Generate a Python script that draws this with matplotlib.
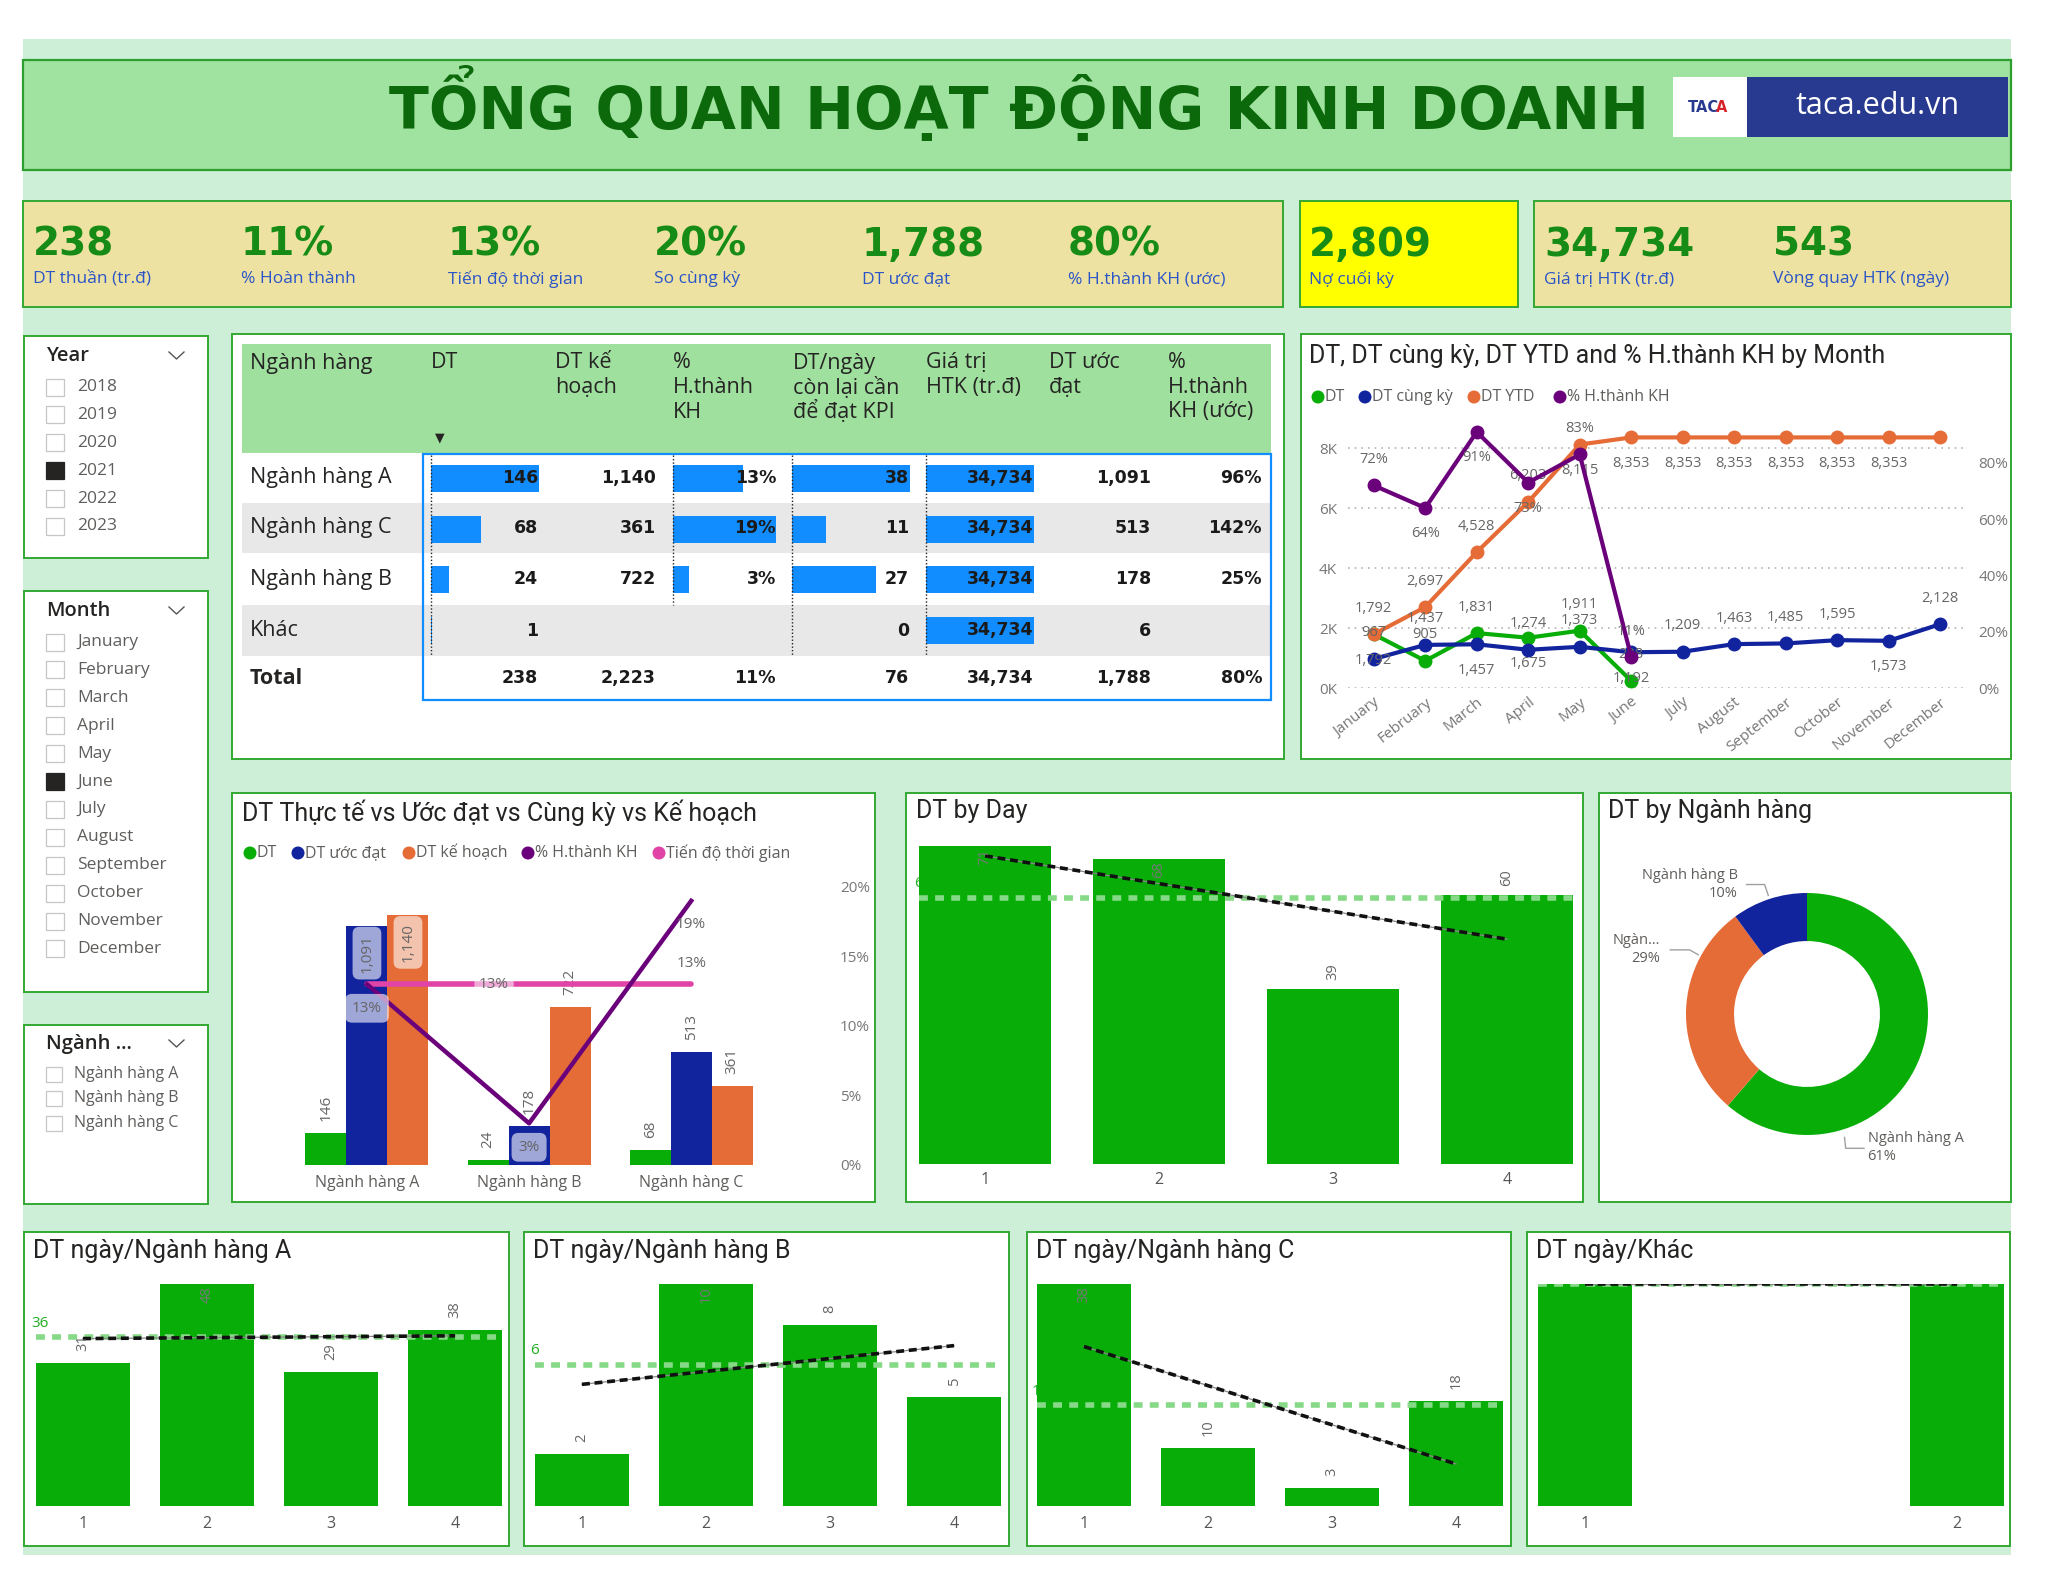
import numpy as np
import matplotlib
matplotlib.use('Agg')
import matplotlib.pyplot as plt
from matplotlib.patches import Rectangle, Circle

plt.rcParams['font.family'] = ['Open Sans', 'DejaVu Sans']

W, H = 2048, 1586
DPI = 100
PT = 72.0 / DPI  # points per pixel

# ---------------- data ----------------
kpi_values = ['238', '11%', '13%', '20%', '1,788', '80%']
kpi_labels = ['DT thuần (tr.đ)', '% Hoàn thành', 'Tiến độ thời gian', 'So cùng kỳ',
              'DT ước đạt', '% H.thành KH (ước)']
debt_value = '2,809'
debt_label = 'Nợ cuối kỳ'
htk_values = ['34,734', '543']
htk_labels = ['Giá trị HTK (tr.đ)', 'Vòng quay HTK (ngày)']

years = ['2018', '2019', '2020', '2021', '2022', '2023']
year_selected = '2021'
months = ['January', 'February', 'March', 'April', 'May', 'June', 'July',
          'August', 'September', 'October', 'November', 'December']
month_selected = 'June'
slicer_nganh = ['Ngành hàng A', 'Ngành hàng B', 'Ngành hàng C']

tbl_headers = [['Ngành hàng'], ['DT'], ['DT kế', 'hoạch'], ['%', 'H.thành', 'KH'],
               ['DT/ngày', 'còn lại cần', 'để đạt KPI'], ['Giá trị', 'HTK (tr.đ)'],
               ['DT ước', 'đạt'], ['%', 'H.thành', 'KH (ước)']]
tbl_rows = ['Ngành hàng A', 'Ngành hàng C', 'Ngành hàng B', 'Khác']
tbl_dt = [146, 68, 24, 1]
tbl_kh = [1140, 361, 722, None]
tbl_pct = [13, 19, 3, None]
tbl_day = [38, 11, 27, 0]
tbl_htk = [34734, 34734, 34734, 34734]
tbl_uoc = [1091, 513, 178, 6]
tbl_pct_uoc = [96, 142, 25, None]
tbl_total = ['238', '2,223', '11%', '76', '34,734', '1,788', '80%']

m_dt = [1792, 905, 1831, 1675, 1911, 238] + [np.nan] * 6
m_cungky = [967, 1437, 1457, 1274, 1373, 1192, 1209, 1463, 1485, 1595, 1573, 2128]
m_ytd = [1792, 2697, 4528, 6203, 8115, 8353, 8353, 8353, 8353, 8353, 8353, 8353]
m_pct = [72, 64, 91, 73, 83, 11] + [np.nan] * 6

cat3 = ['Ngành hàng A', 'Ngành hàng B', 'Ngành hàng C']
c_dt = [146, 24, 68]
c_uoc = [1091, 178, 513]
c_kh = [1140, 722, 361]
c_pct = [13, 3, 19]
c_tiendo = [13, 13, 13]

days4 = [1, 2, 3, 4]
day_dt = [71, 68, 39, 60]
dayA = [31, 48, 29, 38]
dayB = [2.3, 9.8, 8.0, 4.8]
dayC = [38, 10, 3, 18]
days2 = [1, 2]
day_khac = [0.5, 0.5]

donut_labels = ['Ngành hàng A', 'Ngành hàng C', 'Ngành hàng B']
donut_vals = [146, 68, 24]

# ---------------- style ----------------
GREEN = '#08ad08'
BLUE = '#12239e'
ORANGE = '#e66c37'
PURPLE = '#6b007b'
PINK = '#e044a7'
BARBLUE = '#118dff'
BORDER = '#33a833'
GRAYTXT = '#666666'
DARK = '#252423'
TITLEF = ['Roboto', 'DejaVu Sans']
BOLDF = ['DejaVu Sans']

fig = plt.figure(figsize=(W / DPI, H / DPI), dpi=DPI)
fig.patch.set_facecolor('white')


def full_axes(z):
    a = fig.add_axes([0, 0, 1, 1])
    a.set_xlim(0, W)
    a.set_ylim(H, 0)
    a.axis('off')
    a.set_zorder(z)
    a.patch.set_alpha(0)
    return a


bg = full_axes(0)
ov = full_axes(50)


def ax_at(x0, y0, x1, y1, z=5):
    a = fig.add_axes([x0 / W, 1 - y1 / H, (x1 - x0) / W, (y1 - y0) / H])
    a.set_zorder(z)
    a.patch.set_alpha(0)
    for s in a.spines.values():
        s.set_visible(False)
    return a


def panel(x0, y0, x1, y1, fc='white', ec=BORDER, lw=1.4, axis=None):
    (axis or bg).add_patch(Rectangle((x0, y0), x1 - x0, y1 - y0, fc=fc, ec=ec, lw=lw))


def title(x, y, s):
    ov.text(x, y, s, fontsize=18, color=DARK, family=TITLEF, va='center', ha='left')


# ---------------- background / header ----------------
bg.add_patch(Rectangle((23, 39), 2011 - 23, 1555 - 39, fc='#cdefd7', ec='none'))
panel(23, 60, 2011, 170, fc='#a0e2a0', ec='#2e9e2e', lw=1.6)
ov.text(1019, 129, 'TỔNG QUAN HOẠT ĐỘNG KINH DOANH', fontsize=42, weight='bold',
        color='#0b680b', family=BOLDF, ha='center', va='baseline')
bg.add_patch(Rectangle((1673, 77), 74, 60, fc='white', ec='none'))
bg.add_patch(Rectangle((1747, 77), 261, 60, fc='#283a8f', ec='none'))
ov.text(1703, 108, 'TAC', fontsize=10.5, weight='bold', color='#283a8f',
        family=BOLDF, ha='center', va='center')
ov.text(1722, 108, 'A', fontsize=10.5, weight='bold', color='#d8232a',
        family=BOLDF, ha='center', va='center')
ov.text(1878, 106, 'taca.edu.vn', fontsize=22, color='white', ha='center', va='center')

# ---------------- KPI cards ----------------
panel(23, 201, 1283, 307, fc='#eee2a2')
panel(1300, 201, 1518, 307, fc='#ffff00')
panel(1534, 201, 2011, 307, fc='#eee2a2')
KPIG = '#168c16'
KPIB = '#2a55c8'
kx = [33, 241, 448, 654, 862, 1068]
for x, v, l in zip(kx, kpi_values, kpi_labels):
    ov.text(x, 256, v, fontsize=28, weight='bold', color=KPIG, family=BOLDF, va='baseline')
    ov.text(x, 279, l, fontsize=12.5, color=KPIB, va='center')
ov.text(1309, 256, debt_value, fontsize=28, weight='bold', color=KPIG, family=BOLDF, va='baseline')
ov.text(1309, 279, debt_label, fontsize=12.5, color=KPIB, va='center')
for x, v, l in zip([1544, 1773], htk_values, htk_labels):
    ov.text(x, 256, v, fontsize=28, weight='bold', color=KPIG, family=BOLDF, va='baseline')
    ov.text(x, 279, l, fontsize=12.5, color=KPIB, va='center')


# ---------------- slicers ----------------
def slicer(y0, y1, ttl, items, sel, title_y, item_y0, step, fs, cb=18):
    panel(24, y0, 208, y1)
    ov.text(46, title_y, ttl, fontsize=14.5, weight='semibold', color=DARK, va='center')
    ov.plot([169, 176.5, 184], [title_y - 4, title_y + 3, title_y - 4], color='#555555', lw=1.0)
    for i, it in enumerate(items):
        y = item_y0 + i * step
        on = (it == sel)
        ov.add_patch(Rectangle((46, y - cb / 2 + 0.5), cb, cb - 1,
                               fc=DARK if on else 'white',
                               ec=DARK if on else '#c8c6c4', lw=0.9))
        ov.text(77 if cb == 18 else 74, y, it, fontsize=fs, color='#605e5c', va='center')


slicer(336, 558, 'Year', years, year_selected, 356, 387, 27.9, 12.5)
slicer(591, 992, 'Month', months, month_selected, 611, 642, 27.9, 12.5)
slicer(1025, 1204, 'Ngành ...', slicer_nganh, None, 1044, 1074, 24.5, 11.5, cb=16)

# ---------------- table ----------------
panel(232, 334, 1284, 759)
bg.add_patch(Rectangle((242, 344), 1271 - 242, 453 - 344, fc='#9fe09f', ec='none'))
row_tops = [453, 503, 553, 605, 656]
for i in range(4):
    bg.add_patch(Rectangle((242, row_tops[i]), 1271 - 242, row_tops[i + 1] - row_tops[i],
                           fc='white' if i % 2 == 0 else '#e8e8e8', ec='none'))
bg.add_patch(Rectangle((242, 656), 1271 - 242, 700 - 656, fc='white', ec='none'))
row_c = [(row_tops[i] + row_tops[i + 1]) / 2 for i in range(4)]
total_y = 678

hdr_x = [250, 431, 555, 673, 793, 926, 1049, 1168]
for x, lines in zip(hdr_x, tbl_headers):
    for j, ln in enumerate(lines):
        ov.text(x, 363 + j * 24.5, ln, fontsize=15.5, color=DARK, va='center')
ov.text(440, 438, '▼', fontsize=9, color=DARK, family=['DejaVu Sans'], ha='center', va='center')

# data bars
bar_cols = [(431, 539, tbl_dt), (673, 776, tbl_pct), (792, 910, tbl_day), (926, 1034, tbl_htk)]
for x0, x1, vals in bar_cols:
    a = ax_at(x0, 453, x1, 656, z=3)
    ys, vs = [], []
    for i, v in enumerate(vals):
        if v is not None:
            ys.append(i + 0.5)
            vs.append(v)
    a.barh(ys, vs, height=0.53, color=BARBLUE)
    a.set_xlim(0, max(vs))
    a.set_ylim(4, 0)
    a.set_xticks([])
    a.set_yticks([])
# dotted separators
for x, yb in [(431, 656), (673, 605), (792, 656), (926, 656)]:
    ov.plot([x, x], [455, yb], color='#222222', lw=1.0, ls=(0, (1, 1.5)))
bg.add_patch(Rectangle((423, 454), 1271 - 423, 700 - 454, fc='none', ec=BARBLUE, lw=1.6, zorder=5))

col_right = [538, 656, 776, 909, 1033, 1151, 1262]
cols = [(tbl_dt, '{:,}'), (tbl_kh, '{:,}'), (tbl_pct, '{}%'), (tbl_day, '{:,}'),
        (tbl_htk, '{:,}'), (tbl_uoc, '{:,}'), (tbl_pct_uoc, '{}%')]
for i, name in enumerate(tbl_rows):
    ov.text(250, row_c[i], name, fontsize=15.5, color=DARK, va='center')
    for (vals, fmt), xr in zip(cols, col_right):
        v = vals[i]
        if v is None:
            continue
        ov.text(xr, row_c[i], fmt.format(v), fontsize=12.5, weight='bold', color='#1a1a1a',
                family=BOLDF, ha='right', va='center')
ov.text(250, total_y, 'Total', fontsize=15.5, weight='bold', color=DARK, va='center')
for s, xr in zip(tbl_total, col_right):
    ov.text(xr, total_y, s, fontsize=12.5, weight='bold', color='#1a1a1a', family=BOLDF,
            ha='right', va='center')


# ---------------- legends helper ----------------
def legend(items, y, fs=11.5):
    for x, lab, col in items:
        ov.add_patch(Circle((x, y), 6.5, fc=col, ec='none'))
        ov.text(x + 7, y, lab, fontsize=fs, color='#605e5c', va='center')


# ---------------- monthly chart ----------------
panel(1301, 334, 2011, 759)
title(1309, 356, 'DT, DT cùng kỳ, DT YTD and % H.thành KH by Month')
legend([(1318, 'DT', GREEN), (1365, 'DT cùng kỳ', BLUE), (1474, 'DT YTD', ORANGE),
        (1560, '% H.thành KH', PURPLE)], 397)

axm = ax_at(1348, 430, 1966, 688)
xm = np.arange(12)
axm.set_xlim(-0.5, 11.5)
axm.set_ylim(0, 8600)
axm.set_yticks([0, 2000, 4000, 6000, 8000])
axm.set_yticklabels(['0K', '2K', '4K', '6K', '8K'])
axm.yaxis.grid(True, ls=(0, (1, 3)), color='#b5b5b5', lw=1.2)
axm.set_axisbelow(True)
axm.set_xticks(xm)
axm.set_xticklabels(months, rotation=38, ha='right', rotation_mode='anchor')
axm.tick_params(length=0, labelsize=11, labelcolor='#777777')
axm.tick_params(axis='y', pad=8)
axm.tick_params(axis='x', pad=5)
axm.plot(xm, m_dt, color=GREEN, lw=3, marker='o', ms=9, zorder=3, clip_on=False)
axm.plot(xm, m_cungky, color=BLUE, lw=3, marker='o', ms=9, zorder=4, clip_on=False)
axm.plot(xm, m_ytd, color=ORANGE, lw=3, marker='o', ms=9, zorder=3, clip_on=False)
axm2 = axm.twinx()
axm2.set_zorder(axm.get_zorder() + 0.1)
axm2.patch.set_alpha(0)
for s in axm2.spines.values():
    s.set_visible(False)
axm2.set_ylim(0, 91.7)
axm2.set_yticks([0, 20, 40, 60, 80])
axm2.set_yticklabels(['0%', '20%', '40%', '60%', '80%'])
axm2.tick_params(length=0, labelsize=11, labelcolor='#777777', pad=9)
axm2.plot(xm, m_pct, color=PURPLE, lw=3, marker='o', ms=9, clip_on=False)


def point_labels(a, xs, ys, pos, fmt, off=26):
    for xi, yi, p in zip(xs, ys, pos):
        if p is None or yi is None or np.isnan(yi):
            continue
        dy = off * PT if p == 'a' else -off * PT
        a.annotate(fmt(yi), (xi, yi), xytext=(0, dy), textcoords='offset points',
                   ha='center', va='center', fontsize=10.5, color=GRAYTXT,
                   annotation_clip=False, zorder=8)


point_labels(axm, xm, m_dt, ['a', 'a', 'a', 'b', 'a', 'a'], lambda v: f'{v:,.0f}')
point_labels(axm, xm, m_cungky, ['a', 'a', 'b', 'a', 'a', 'b', 'a', 'a', 'a', 'a', 'b', 'a'],
             lambda v: f'{v:,.0f}')
point_labels(axm, xm, m_ytd, ['b', 'a', 'a', 'a', 'b', 'b', 'b', 'b', 'b', 'b', 'b', None],
             lambda v: f'{v:,.0f}')
point_labels(axm2, xm, m_pct, ['a', 'b', 'b', 'b', 'a', 'a'], lambda v: f'{v:.0f}%')

# ---------------- DT Thuc te vs ... ----------------
panel(232, 793, 875, 1202)
title(242, 813, 'DT Thực tế vs Ước đạt vs Cùng kỳ vs Kế hoạch')
legend([(250, 'DT', GREEN), (298, 'DT ước đạt', BLUE), (409, 'DT kế hoạch', ORANGE),
        (528, '% H.thành KH', PURPLE), (659, 'Tiến độ thời gian', PINK)], 853)

axc = ax_at(294, 870, 829, 1165)
xc = np.arange(3)
bw = 0.253
axc.set_xlim(-0.45, 2.85)
ymax_c = 1345
axc.set_ylim(0, ymax_c)
for off, vals, col in [(-bw, c_dt, GREEN), (0, c_uoc, BLUE), (bw, c_kh, ORANGE)]:
    axc.bar(xc + off, vals, bw, color=col, zorder=2)
    for xi, v in zip(xc + off, vals):
        if v / ymax_c > 0.75:
            axc.annotate(f'{v:,}', (xi, v), xytext=(0, -8 * PT), textcoords='offset points',
                         rotation=90, ha='center', va='top', fontsize=11, color=GRAYTXT,
                         bbox=dict(boxstyle='round,pad=0.45', fc='white', ec='none', alpha=0.6),
                         zorder=6)
        else:
            axc.annotate(f'{v:,}', (xi, v), xytext=(0, 12 * PT), textcoords='offset points',
                         rotation=90, ha='center', va='bottom', fontsize=11, color=GRAYTXT,
                         zorder=6)
axc.set_xticks(xc)
axc.set_xticklabels(cat3)
axc.set_yticks([])
axc.tick_params(length=0, labelsize=11.5, labelcolor='#605e5c', pad=7)
axc2 = axc.twinx()
axc2.set_zorder(axc.get_zorder() + 0.1)
axc2.patch.set_alpha(0)
for s in axc2.spines.values():
    s.set_visible(False)
axc2.set_ylim(0, 21.22)
axc2.set_yticks([0, 5, 10, 15, 20])
axc2.set_yticklabels(['0%', '5%', '10%', '15%', '20%'])
axc2.tick_params(length=0, labelsize=11, labelcolor='#777777', pad=8)
axc2.plot(xc, c_tiendo, color=PINK, lw=4, solid_capstyle='round')
axc2.plot(xc, c_pct, color=PURPLE, lw=3.2)
lbox = dict(boxstyle='round,pad=0.45', fc='white', ec='none', alpha=0.6)
for xi, v, box in zip(xc, c_pct, [lbox, lbox, None]):
    axc2.annotate(f'{v}%', (xi, v), xytext=(0, -24 * PT), textcoords='offset points',
                  ha='center', va='center', fontsize=11, color=GRAYTXT, bbox=box, zorder=7)
for xi, v, dxy in zip(xc[1:], c_tiendo[1:], [(-35, 0), (0, 21)]):
    axc2.annotate(f'{v}%', (xi, v), xytext=(dxy[0] * PT, dxy[1] * PT), textcoords='offset points',
                  ha='center', va='center', fontsize=11, color=GRAYTXT,
                  bbox=dict(boxstyle='round,pad=0.3', fc='white', ec='none', alpha=0.55), zorder=7)


# ---------------- day charts ----------------
def day_chart(box, xs, vals, width, xlim, avg_label=True, show_values=True,
              tick_pad=7, lab_off=12):
    a = ax_at(*box)
    xs = np.asarray(xs, dtype=float)
    a.bar(xs, vals, width, color=GREEN, zorder=2)
    top = max(vals)
    a.set_ylim(0, top)
    a.set_xlim(*xlim)
    mean = float(np.mean(vals))
    a.axhline(mean, color='#86d986', lw=4, dashes=(1.6, 1.3), zorder=3)
    k, b = np.polyfit(xs, vals, 1)
    xt = np.array([xs[0], xs[-1]])
    a.plot(xt, k * xt + b, color='#888888', lw=0.9, zorder=4)
    a.plot(xt, k * xt + b, color='#111111', lw=2.6, dashes=(2.2, 1.3), zorder=4)
    if avg_label:
        a.annotate('{:.0f}'.format(mean), (xlim[0], mean), xytext=(-5 * PT, 14 * PT),
                   textcoords='offset points', color='#1fae1f', fontsize=11,
                   ha='left', va='center', zorder=1, annotation_clip=False)
    if show_values:
        for x, v in zip(xs, vals):
            if v / top > 0.9:
                a.annotate(f'{v:.0f}', (x, v), xytext=(0, -2 * PT), textcoords='offset points',
                           rotation=90, ha='center', va='top', fontsize=10.5, color='#777777',
                           zorder=5)
            else:
                a.annotate(f'{v:.0f}', (x, v), xytext=(0, lab_off * PT), textcoords='offset points',
                           rotation=90, ha='center', va='bottom', fontsize=10.5, color='#666666',
                           zorder=5, annotation_clip=False)
    a.set_xticks(xs)
    a.set_xticklabels([str(int(x)) for x in xs])
    a.set_yticks([])
    a.tick_params(length=0, labelsize=11.5, labelcolor='#555555', pad=tick_pad)
    return a


panel(906, 793, 1583, 1202)
title(916, 811, 'DT by Day')
day_chart((919, 846, 1573, 1164), days4, day_dt, 0.759, (0.6207, 4.3793), tick_pad=6, lab_off=9)

# ---------------- donut ----------------
panel(1599, 793, 2011, 1202)
title(1608, 811, 'DT by Ngành hàng')
axd = ax_at(1686, 893, 1928, 1135)
axd.pie(donut_vals, colors=[GREEN, ORANGE, BLUE], startangle=90, counterclock=False,
        radius=1, wedgeprops=dict(width=0.397, edgecolor='none'))
axd.set_xlim(-1, 1)
axd.set_ylim(-1, 1)
tot = sum(donut_vals)
pcts = [f'{v / tot * 100:.0f}%' for v in donut_vals]
short = [donut_labels[0], 'Ngàn…', donut_labels[2]]
lab_pos = [((0.50, -1.10), 'left'), ((-1.21, 0.53), 'right'), ((-0.57, 1.07), 'right')]
leaders = [([0.31, 0.32, 0.47], [-1.02, -1.11, -1.11]),
           ([-0.90, -0.97, -1.13], [0.49, 0.53, 0.53]),
           ([-0.32, -0.35, -0.50], [0.98, 1.07, 1.07])]
for (pos, ha), s, p, (lx, ly) in zip(lab_pos, short, pcts, leaders):
    axd.text(pos[0], pos[1] + 0.075, s, ha=ha, va='center', fontsize=10.5, color='#605e5c',
             clip_on=False)
    axd.text(pos[0], pos[1] - 0.075, p, ha=ha, va='center', fontsize=10.5, color='#605e5c',
             clip_on=False)
    axd.plot(lx, ly, color='#a0a0a0', lw=1, clip_on=False)

# ---------------- bottom panels ----------------
panel(24, 1232, 509, 1546)
title(33, 1251, 'DT ngày/Ngành hàng A')
day_chart((36, 1284, 502, 1506), days4, dayA, 0.757, (1 - 0.3785, 4 + 0.3785))

panel(524, 1232, 1009, 1546)
title(533, 1251, 'DT ngày/Ngành hàng B')
day_chart((535, 1284, 1001, 1506), days4, dayB, 0.757, (1 - 0.3785, 4 + 0.3785))

panel(1027, 1232, 1511, 1546)
title(1036, 1251, 'DT ngày/Ngành hàng C')
day_chart((1037, 1284, 1503, 1506), days4, dayC, 0.757, (1 - 0.3785, 4 + 0.3785))

panel(1527, 1232, 2010, 1546)
title(1536, 1251, 'DT ngày/Khác')
day_chart((1538, 1284, 2004, 1506), days2, day_khac, 0.253, (0.874, 2.127),
          avg_label=False, show_values=False)

fig.savefig('out.png', dpi=DPI, facecolor='white')
